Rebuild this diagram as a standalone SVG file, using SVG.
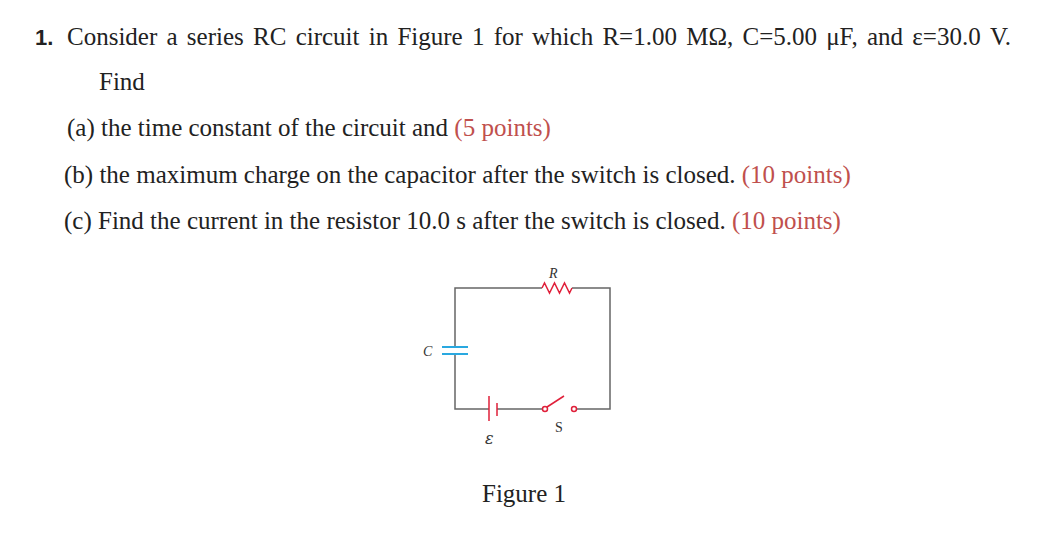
<svg xmlns="http://www.w3.org/2000/svg" width="1057" height="545" viewBox="0 0 1057 545">
<style>
.t{font-family:"Liberation Serif",serif;font-size:25px;fill:#222}
.p{fill:#c0504d}
.w{stroke:#666;stroke-width:1.5;fill:none}
.r{stroke:#e0203a;stroke-width:1.5;fill:none}
.l{font-family:"Liberation Serif",serif;font-size:14px;font-style:italic;fill:#333}
</style>
<rect width="1057" height="545" fill="#fff"/>
<g id="text">
<text x="35" y="45" font-family="Liberation Sans" font-weight="bold" font-size="22" fill="#222">1.</text>
<text x="67" y="45" class="t" textLength="944" lengthAdjust="spacing" word-spacing="3">Consider a series RC circuit in Figure 1 for which R=1.00 MΩ, C=5.00 μF, and ε=30.0 V.</text>
<text x="99" y="90" class="t">Find</text>
<text x="67" y="136" class="t">(a) the time constant of the circuit and <tspan class="p">(5 points)</tspan></text>
<text x="64" y="183" class="t">(b) the maximum charge on the capacitor after the switch is closed. <tspan class="p">(10 points)</tspan></text>
<text x="64" y="229" class="t">(c) Find the current in the resistor 10.0 s after the switch is closed. <tspan class="p">(10 points)</tspan></text>
<text x="482" y="502" class="t">Figure 1</text>
</g>
<g id="connectors">
<path class="w" d="M542 288 H455 V347 M455 354 V409 H489 M497 409 H543 M576 409 H610 V288 H572"/>
</g>
<g id="resistor"><path class="r" d="M542 288 l2.5 -5 l5 10 l5 -10 l5 10 l5 -10 l5 10 l2.5 -5"/><text x="549" y="278" class="l">R</text></g>
<g id="capacitor"><path stroke="#29a8e0" stroke-width="1.8" d="M442 347 H468 M442 354 H468"/><text x="423" y="356" class="l">C</text></g>
<g id="battery"><path class="r" stroke-width="1.8" d="M489 396 V421 M497 403 V416"/><text x="485" y="444" font-family="DejaVu Serif" font-style="italic" font-size="16" fill="#333">ε</text></g>
<g id="switch"><circle cx="545" cy="409" r="2.5" class="r" fill="#fff"/><circle cx="574" cy="409" r="2.5" class="r" fill="#fff"/><path class="r" d="M547 407 L564 396"/><text x="555" y="432" font-family="Liberation Serif" font-size="14" fill="#333">S</text></g>
</svg>
